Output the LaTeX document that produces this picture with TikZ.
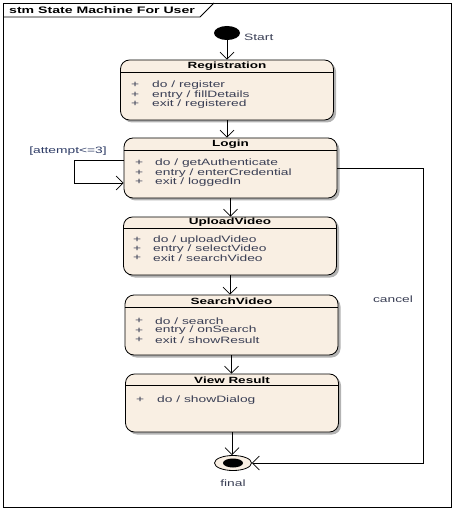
\documentclass[tikz,border=0pt]{standalone}
\usepackage{fontspec}
\newfontfamily\diag[FakeStretch=1.5]{Liberation Sans}
\usetikzlibrary{arrows.meta,shadows,shapes.geometric}
\definecolor{statefill}{HTML}{F9EFE3}
\definecolor{itemtxt}{HTML}{3A3F55}
\definecolor{guardtxt}{HTML}{2E3C66}
\begin{document}
\begin{tikzpicture}[x=1pt,y=-1pt,
  font=\diag\fontsize{9.2}{10}\selectfont,
  state/.style={draw=black, line width=0.8pt, fill=statefill, rounded corners=9pt,
    drop shadow={shadow xshift=2.5pt, shadow yshift=-2.5pt, fill=black!50, opacity=0.6},
    inner sep=0pt, minimum width=213pt},
  ttl/.style={font=\diag\bfseries\fontsize{9}{10}\selectfont, inner sep=0pt, text=black},
  item/.style={anchor=west, inner sep=0pt, text=itemtxt},
  lbl/.style={inner sep=0pt, text=itemtxt},
  hdr/.style={line width=0.8pt},
  arr/.style={line width=0.7pt, -{Straight Barb[length=7pt,width=14pt]}}
]
\useasboundingbox (0,0) rectangle (458,510);
% frame
\draw[line width=0.8pt] (3,3) rectangle (451,507);
\draw[line width=0.8pt] (3,17) -- (200,17) -- (214,3);
\node[anchor=west, inner sep=0pt, font=\diag\bfseries\fontsize{9.4}{10}\selectfont] (frametitle) at (9,10) {stm State Machine For User};

% start
\node[ellipse, fill=black, minimum width=26pt, minimum height=14pt, inner sep=0pt] (start) at (227,33) {};
\node[lbl, anchor=west] (startlbl) at (244,37) {Start};

% states
\node[state, minimum height=60pt] (reg) at (227,90) {};
\draw[hdr] (reg.west |- 0,72) -- (reg.east |- 0,72);
\node[ttl] (regT) at (227,66) {Registration};
\node[item] (reg1p) at (131,85) {+}; \node[item] (reg1) at (152,85) {do / register};
\node[item] (reg2p) at (131,95) {+}; \node[item] (reg2) at (152,95) {entry / fillDetails};
\node[item] (reg3p) at (131,104) {+}; \node[item] (reg3) at (152,104) {exit / registered};

\node[state, minimum height=60pt] (login) at (230.5,168) {};
\draw[hdr] (login.west |- 0,150) -- (login.east |- 0,150);
\node[ttl] (loginT) at (230.5,144) {Login};
\node[item] (log1p) at (135,163) {+}; \node[item] (log1) at (155,163) {do / getAuthenticate};
\node[item] (log2p) at (135,173) {+}; \node[item] (log2) at (155,173) {entry / enterCredential};
\node[item] (log3p) at (135,182) {+}; \node[item] (log3) at (155,182) {exit / loggedIn};

\node[state, minimum height=58pt] (upload) at (230,246) {};
\draw[hdr] (upload.west |- 0,228) -- (upload.east |- 0,228);
\node[ttl] (uploadT) at (230,222) {UploadVideo};
\node[item] (up1p) at (133,240) {+}; \node[item] (up1) at (153,240) {do / uploadVideo};
\node[item] (up2p) at (133,249) {+}; \node[item] (up2) at (153,249) {entry / selectVideo};
\node[item] (up3p) at (133,258) {+}; \node[item] (up3) at (153,258) {exit / searchVideo};

\node[state, minimum height=60pt] (search) at (231.5,325) {};
\draw[hdr] (search.west |- 0,307) -- (search.east |- 0,307);
\node[ttl] (searchT) at (231.5,301) {SearchVideo};
\node[item] (se1p) at (135,321) {+}; \node[item] (se1) at (155,321) {do / search};
\node[item] (se2p) at (135,330.5) {+}; \node[item] (se2) at (155,330.5) {entry / onSearch};
\node[item] (se3p) at (135,340) {+}; \node[item] (se3) at (155,340) {exit / showResult};

\node[state, minimum height=58pt] (view) at (232,403) {};
\draw[hdr] (view.west |- 0,385) -- (view.east |- 0,385);
\node[ttl] (viewT) at (232,380) {View Result};
\node[item] (vi1p) at (136,400) {+}; \node[item] (vi1) at (157,400) {do / showDialog};

% final
\node[ellipse, draw=black, line width=0.8pt, fill=statefill, minimum width=37pt, minimum height=15pt, inner sep=0pt] (final) at (233,463) {};
\node[ellipse, fill=black, minimum width=20pt, minimum height=9pt, inner sep=0pt] (finalin) at (final.center) {};
\node[lbl] (finallbl) at (233,483) {final};

% transitions
\draw[arr] (start.south) -- (start.south |- reg.north);
\draw[arr] (reg.south) -- (reg.south |- login.north);
\draw[arr] (login.south) -- (login.south |- upload.north);
\draw[arr] (upload.south) -- (upload.south |- search.north);
\draw[arr] (search.south) -- (search.south |- view.north);
\draw[arr] (view.south) -- (view.south |- final.north);

% self loop
\coordinate (l1) at (74,160);
\coordinate (l2) at (74,183);
\draw[arr] (login.west |- l1) -- (l1) -- (l2) -- (login.west |- l2);
\node[lbl, text=guardtxt] (guard) at (68,151) {[attempt<=3]};

% cancel
\coordinate (c1) at (423,168);
\coordinate (c2) at (423,463);
\draw[arr] (login.east |- c1) -- (c1) -- (c2) -- (final.east);
\node[lbl] (cancellbl) at (393,299) {cancel};
\end{tikzpicture}
\end{document}
